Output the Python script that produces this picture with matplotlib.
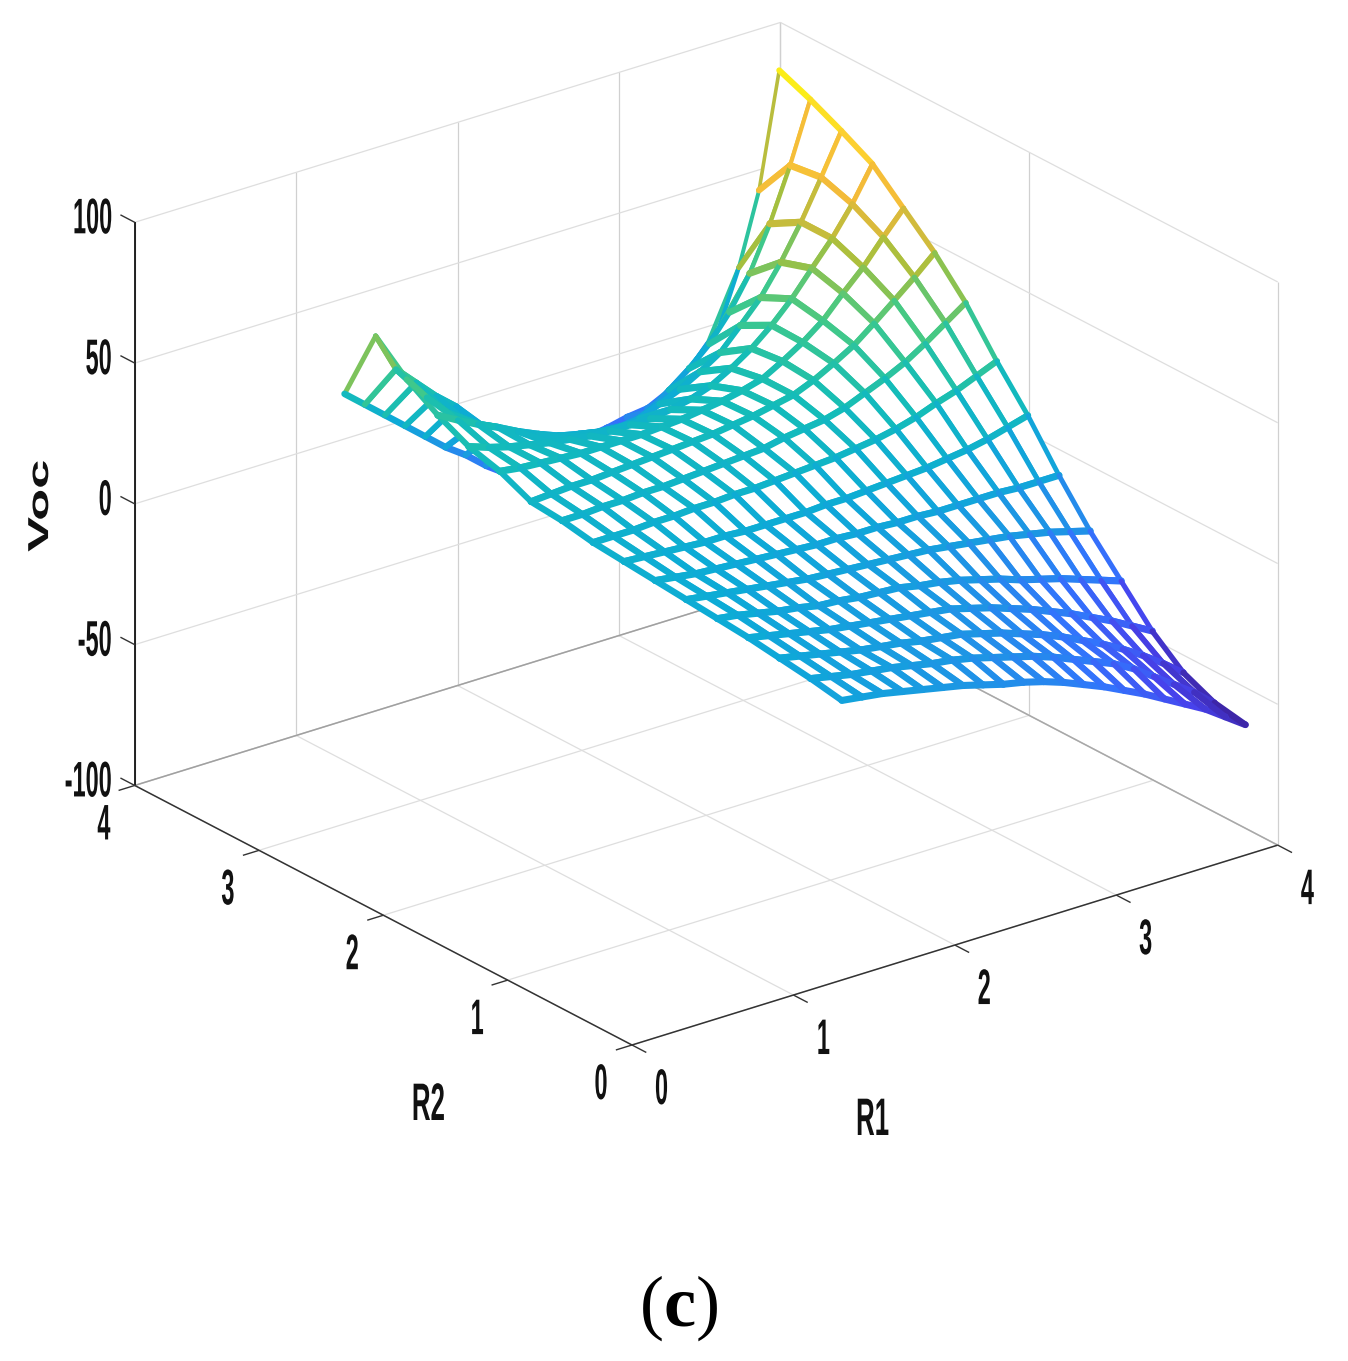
import numpy as np
import matplotlib
matplotlib.use("Agg")
import matplotlib.pyplot as plt
import matplotlib.patheffects as pe
from matplotlib.colors import LinearSegmentedColormap, Normalize
from matplotlib.transforms import Affine2D
from mpl_toolkits.mplot3d import proj3d
from mpl_toolkits.mplot3d.art3d import Line3DCollection, Poly3DCollection

# mesh nodes
r1_vals = [1.3, 1.425, 1.55, 1.675, 1.8, 1.925, 2.05, 2.175, 2.3, 2.425, 2.55,
           2.675, 2.8, 2.925, 3.05, 3.175, 3.3, 3.425, 3.55, 3.675, 3.8]
r2_vals = [0, 0.25, 0.5, 0.75, 1, 1.25, 1.5, 1.75, 2, 2.25, 2.5, 2.75, 3, 3.25, 3.5, 3.75, 4]

# one row per R2 value, left to right along R1
voc = [
    [-0.7, -1.7, -2.7, -4.2, -5.7, -7.2, -8.7, -10.7, -12.7, -14.2, -16.2, -18.7, -21.7, -24.7, -28.2, -31.7, -35.7, -39.7, -43.7, -48.7, -53.7],
    [1.3, -0.2, -1.7, -2.7, -3.7, -5.2, -6.7, -7.7, -9.2, -11.2, -13.2, -15.2, -17.7, -20.7, -23.7, -26.7, -30.7, -35.7, -40.7, -45.7, -51.7],
    [2.8, 1.3, -0.2, -1.7, -3.2, -4.2, -5.2, -6.7, -7.7, -8.7, -10.7, -12.7, -15.2, -17.7, -20.7, -24.2, -27.7, -31.7, -36.2, -41.2, -46.7],
    [4.3, 2.8, 1.3, -0.2, -1.7, -2.7, -3.7, -4.7, -5.7, -6.7, -7.7, -9.7, -11.7, -14.2, -16.7, -19.7, -22.7, -26.2, -29.7, -33.7, -37.7],
    [5.3, 4.3, 2.8, 1.3, 0.3, -1.2, -1.7, -2.7, -3.2, -3.7, -5.2, -6.2, -7.7, -9.7, -11.7, -14.2, -16.2, -18.2, -20.7, -23.2, -25.7],
    [6.3, 5.3, 4.3, 3.3, 2.3, 1.3, 0.3, -0.2, -0.7, -1.2, -1.7, -2.2, -2.7, -3.7, -4.7, -5.7, -6.7, -8.2, -9.7, -11.7, -13.7],
    [7.3, 6.3, 5.3, 4.8, 4.3, 3.8, 3.3, 2.8, 2.3, 2.3, 1.8, 1.8, 1.3, 1.3, 0.8, 0.8, 0.8, 0.8, 0.3, 0.3, 0.3],
    [8.3, 7.8, 7.3, 6.8, 6.3, 6.3, 5.8, 5.8, 5.8, 5.8, 6.3, 6.3, 6.8, 7.3, 7.8, 8.3, 9.3, 10.3, 11.8, 13.8, 15.8],
    [9.3, 9.3, 9.3, 9.8, 9.8, 10.3, 10.3, 10.8, 10.8, 11.3, 11.8, 12.3, 12.8, 13.8, 14.8, 16.3, 18.3, 21, 23.3, 26.3, 29.3],
    [11.3, 11.3, 11.8, 11.8, 12.3, 12.3, 12.8, 13.3, 13.8, 14.3, 14.8, 16.3, 17.3, 18.3, 20.3, 23.3, 26.3, 29.8, 34.3, 39.3, 44.3],
    [12.3, 12.8, 13.3, 13.3, 13.8, 14.3, 14.8, 15.3, 15.8, 16.3, 17.3, 18.3, 19.8, 21.3, 24.3, 28.1, 32.3, 37.9, 43.8, 49.8, 56.3],
    [17.3, 16.3, 15.8, 15.3, 14.8, 14.8, 14.8, 14.8, 15.3, 15.8, 16.8, 17.8, 19.3, 21.3, 25.3, 29.8, 35.3, 42.8, 49.8, 58.3, 66.3],
    [20.3, 17.8, 15.8, 14.3, 12.8, 11.8, 10.8, 10.3, 10.3, 10.3, 11.3, 12.8, 15.3, 19.3, 24.1, 30.1, 37.3, 45.9, 54.3, 64.3, 76.3],
    [25.7, 21.7, 18, 14.7, 11, 7.8, 5, 3.4, 2, 1.5, 2.3, 5.3, 8.3, 12.3, 16.9, 24.3, 32, 42.3, 54.3, 68, 82.3],
    [32.7, 24, 16.5, 10.7, 6, 1.7, -2.3, -5.6, -7.8, -9.3, -9.4, -8, -6, 0, 5.5, 12, 21, 32.6, 48, 66.5, 87.7],
    [42.3, 28.3, 21.3, 14.3, 8.3, 0, -5.2, -10, -14.4, -17.2, -19, -20, -19, -17.6, -15, -11, -5, 7, 26.7, 51.9, 92.3],
    [16, 10, 4, -2, -8, -14, -19, -25, -30, -31, -31, -29, -26, -25, -23.4, -22.5, -19, -14, -6, np.nan, np.nan],
]

r_ticks = [0, 1, 2, 3, 4]
z_ticks = [-100, -50, 0, 50, 100]
wall_r2 = [0, 2, 4]    # the R1=4 wall only has every other vertical

W, H = 1348, 1361

parula = LinearSegmentedColormap.from_list("parula", [
    (0.24, 0.15, 0.66), (0.28, 0.26, 0.93), (0.20, 0.45, 0.99), (0.12, 0.58, 0.90),
    (0.05, 0.67, 0.84), (0.08, 0.74, 0.72), (0.26, 0.79, 0.53), (0.65, 0.75, 0.24),
    (0.95, 0.72, 0.23), (0.99, 0.82, 0.19), (0.98, 0.98, 0.05)])
norm = Normalize(-54, 92.3)


class Squeeze(pe.AbstractPathEffect):
    """the source text is stretched, so scale glyphs about their centre"""
    def __init__(self, sx, sy=1.0):
        super().__init__()
        self.sx, self.sy = sx, sy

    def draw_path(self, renderer, gc, tpath, affine, rgbFace=None):
        box = tpath.get_extents()
        cx, cy = (box.x0 + box.x1) / 2, (box.y0 + box.y1) / 2
        scale = Affine2D().translate(-cx, -cy).scale(self.sx, self.sy).translate(cx, cy)
        renderer.draw_path(gc, tpath, scale + affine, rgbFace)


fig = plt.figure(figsize=(W / 100, H / 100), dpi=100)
side = 1000.0
ax = fig.add_axes([0, 0, side / W, side / H], projection='3d', proj_type='ortho')
ax.computed_zorder = False
ax.view_init(elev=23.7, azim=232.4)
ax.set_box_aspect((1, 1, 0.7546))
ax.set_axis_off()


def set_box():
    ax.set_xlim(0, 4, view_margin=0)
    ax.set_ylim(0, 4, view_margin=0)
    ax.set_zlim(-100, 100, view_margin=0)


set_box()


def to_px(x, y, z):
    xs, ys, _ = proj3d.proj_transform(x, y, z, ax.get_proj())
    return ax.transData.transform((xs, ys))


# fit the box to the reference: front corner at (632, 1045), width 1143 px
ax.apply_aspect()
side *= 1143 / (to_px(4, 0, -100)[0] - to_px(0, 4, -100)[0])
ax.set_position([0, 0, side / W, side / H])
ax.apply_aspect()
p0 = to_px(0, 0, -100)
ax.set_position([(632 - p0[0]) / W, (H - 1045 - p0[1]) / H, side / W, side / H])
ax.apply_aspect()

# grid on floor and walls
grid = dict(color='#dedede', lw=0.9, zorder=1, solid_capstyle='butt')
vert = dict(color='#d0d0d0', lw=0.9, zorder=1, solid_capstyle='butt')
for t in r_ticks:
    ax.plot([t, t], [0, 4], [-100, -100], **grid)
    ax.plot([0, 4], [t, t], [-100, -100], **grid)
    ax.plot([t, t], [4, 4], [-100, 100], **vert)
for t in wall_r2:
    ax.plot([4, 4], [t, t], [-100, 100], **vert)
for t in z_ticks:
    ax.plot([0, 4], [4, 4], [t, t], **grid)
    ax.plot([4, 4], [0, 4], [t, t], **grid)

# box edges and tick stubs
edge = dict(solid_capstyle='butt', zorder=2)
ax.plot([0, 4], [4, 4], [-100, -100], color='#a0a0a0', lw=1.1, **edge)
ax.plot([4, 4], [0, 4], [-100, -100], color='#a8a8a8', lw=1.1, **edge)
ax.plot([0, 0], [4, 4], [-100, 100], color='black', lw=1.2, **edge)
ax.plot([0, 4], [0, 0], [-100, -100], color='#333333', lw=1.1, **edge)
ax.plot([0, 0], [0, 4], [-100, -100], color='#333333', lw=1.1, **edge)
for t in r_ticks:
    ax.plot([t, t], [0, -0.115], [-100, -100], color='#333333', lw=1.0, **edge)
    ax.plot([0, -0.1], [t, t], [-100, -100], color='#333333', lw=1.0, **edge)
for t in z_ticks:
    ax.plot([0, 0], [4, 4.115], [t, t], color='#333333', lw=1.0, **edge)

# the mesh: white cells painted far to near, so they hide what is behind them
X, Y = np.meshgrid(r1_vals, r2_vals)
Z = np.array(voc)


def seg_width(p, q):
    a, b = to_px(*p), to_px(*q)
    d = b - a
    # the source picture was squeezed sideways: flat lines are thicker than steep ones
    return (2.9 + 4.2 * abs(d[0]) / max(np.hypot(*d), 1e-6)) * 0.72


order = 10
for j in range(Z.shape[0] - 2, -1, -1):
    for i in range(Z.shape[1] - 2, -1, -1):
        cell = [(j, i), (j, i + 1), (j + 1, i + 1), (j + 1, i)]
        if any(np.isnan(Z[c]) for c in cell):
            continue
        verts = [(X[c], Y[c], Z[c]) for c in cell]
        ax.add_collection3d(Poly3DCollection([verts], facecolor='white', edgecolor='none', zorder=order))
        segs, cols, widths = [], [], []
        # each edge takes the colour of its lower-index end
        for a, b in [(cell[0], cell[1]), (cell[0], cell[3]), (cell[3], cell[2]), (cell[1], cell[2])]:
            pa, pb = (X[a], Y[a], Z[a]), (X[b], Y[b], Z[b])
            segs.append([pa, pb])
            cols.append(parula(norm(Z[a])))
            widths.append(seg_width(pa, pb))
        ax.add_collection3d(Line3DCollection(segs, colors=cols, linewidths=widths,
                                             capstyle='round', zorder=order + 1))
        order += 2

set_box()

# text goes on the figure, next to where the ticks land
narrow = [Squeeze(0.47)]
lab = dict(family='Liberation Sans', weight='bold', color='#111111', ha='center', va='center')
for t in r_ticks:
    a = to_px(t, 0, -100)
    fig.text((a[0] + 29.5) / W, (a[1] - 46) / H, str(t), fontsize=36, path_effects=narrow, **lab)
    b = to_px(0, t, -100)
    fig.text((b[0] - 31) / W, (b[1] - 41) / H, str(t), fontsize=36, path_effects=narrow, **lab)
for t in z_ticks:
    a = to_px(0, 4, t)
    s = str(t)
    # squeezed width: digits 13 px, minus sign 8 px, right edge 23 px off the axis
    w = 13 * len(s.lstrip('-')) + (8 if t < 0 else 0)
    fig.text((a[0] - 23 - w / 2) / W, (a[1] + 2) / H, s, fontsize=36, path_effects=narrow, **lab)

fig.text(428 / W, (H - 1106) / H, 'R2', fontsize=38, path_effects=[Squeeze(0.49)], **lab)
fig.text(872 / W, (H - 1121) / H, 'R1', fontsize=38, path_effects=[Squeeze(0.49)], **lab)
fig.text(41 / W, (H - 506) / H, 'Voc', fontsize=26, family='Liberation Sans', weight='bold',
         rotation=90, ha='center', va='center', color='#111111', path_effects=[Squeeze(1.45, 0.8)])

plt.rcParams['mathtext.fontset'] = 'custom'
plt.rcParams['mathtext.rm'] = 'Liberation Serif'
plt.rcParams['mathtext.bf'] = 'Liberation Serif:bold'
fig.text(679 / W, (H - 1308) / H, r'($\mathbf{c}$)', fontsize=52, family='Liberation Serif',
         ha='center', va='center', color='black')

fig.savefig('out.png', dpi=100)
